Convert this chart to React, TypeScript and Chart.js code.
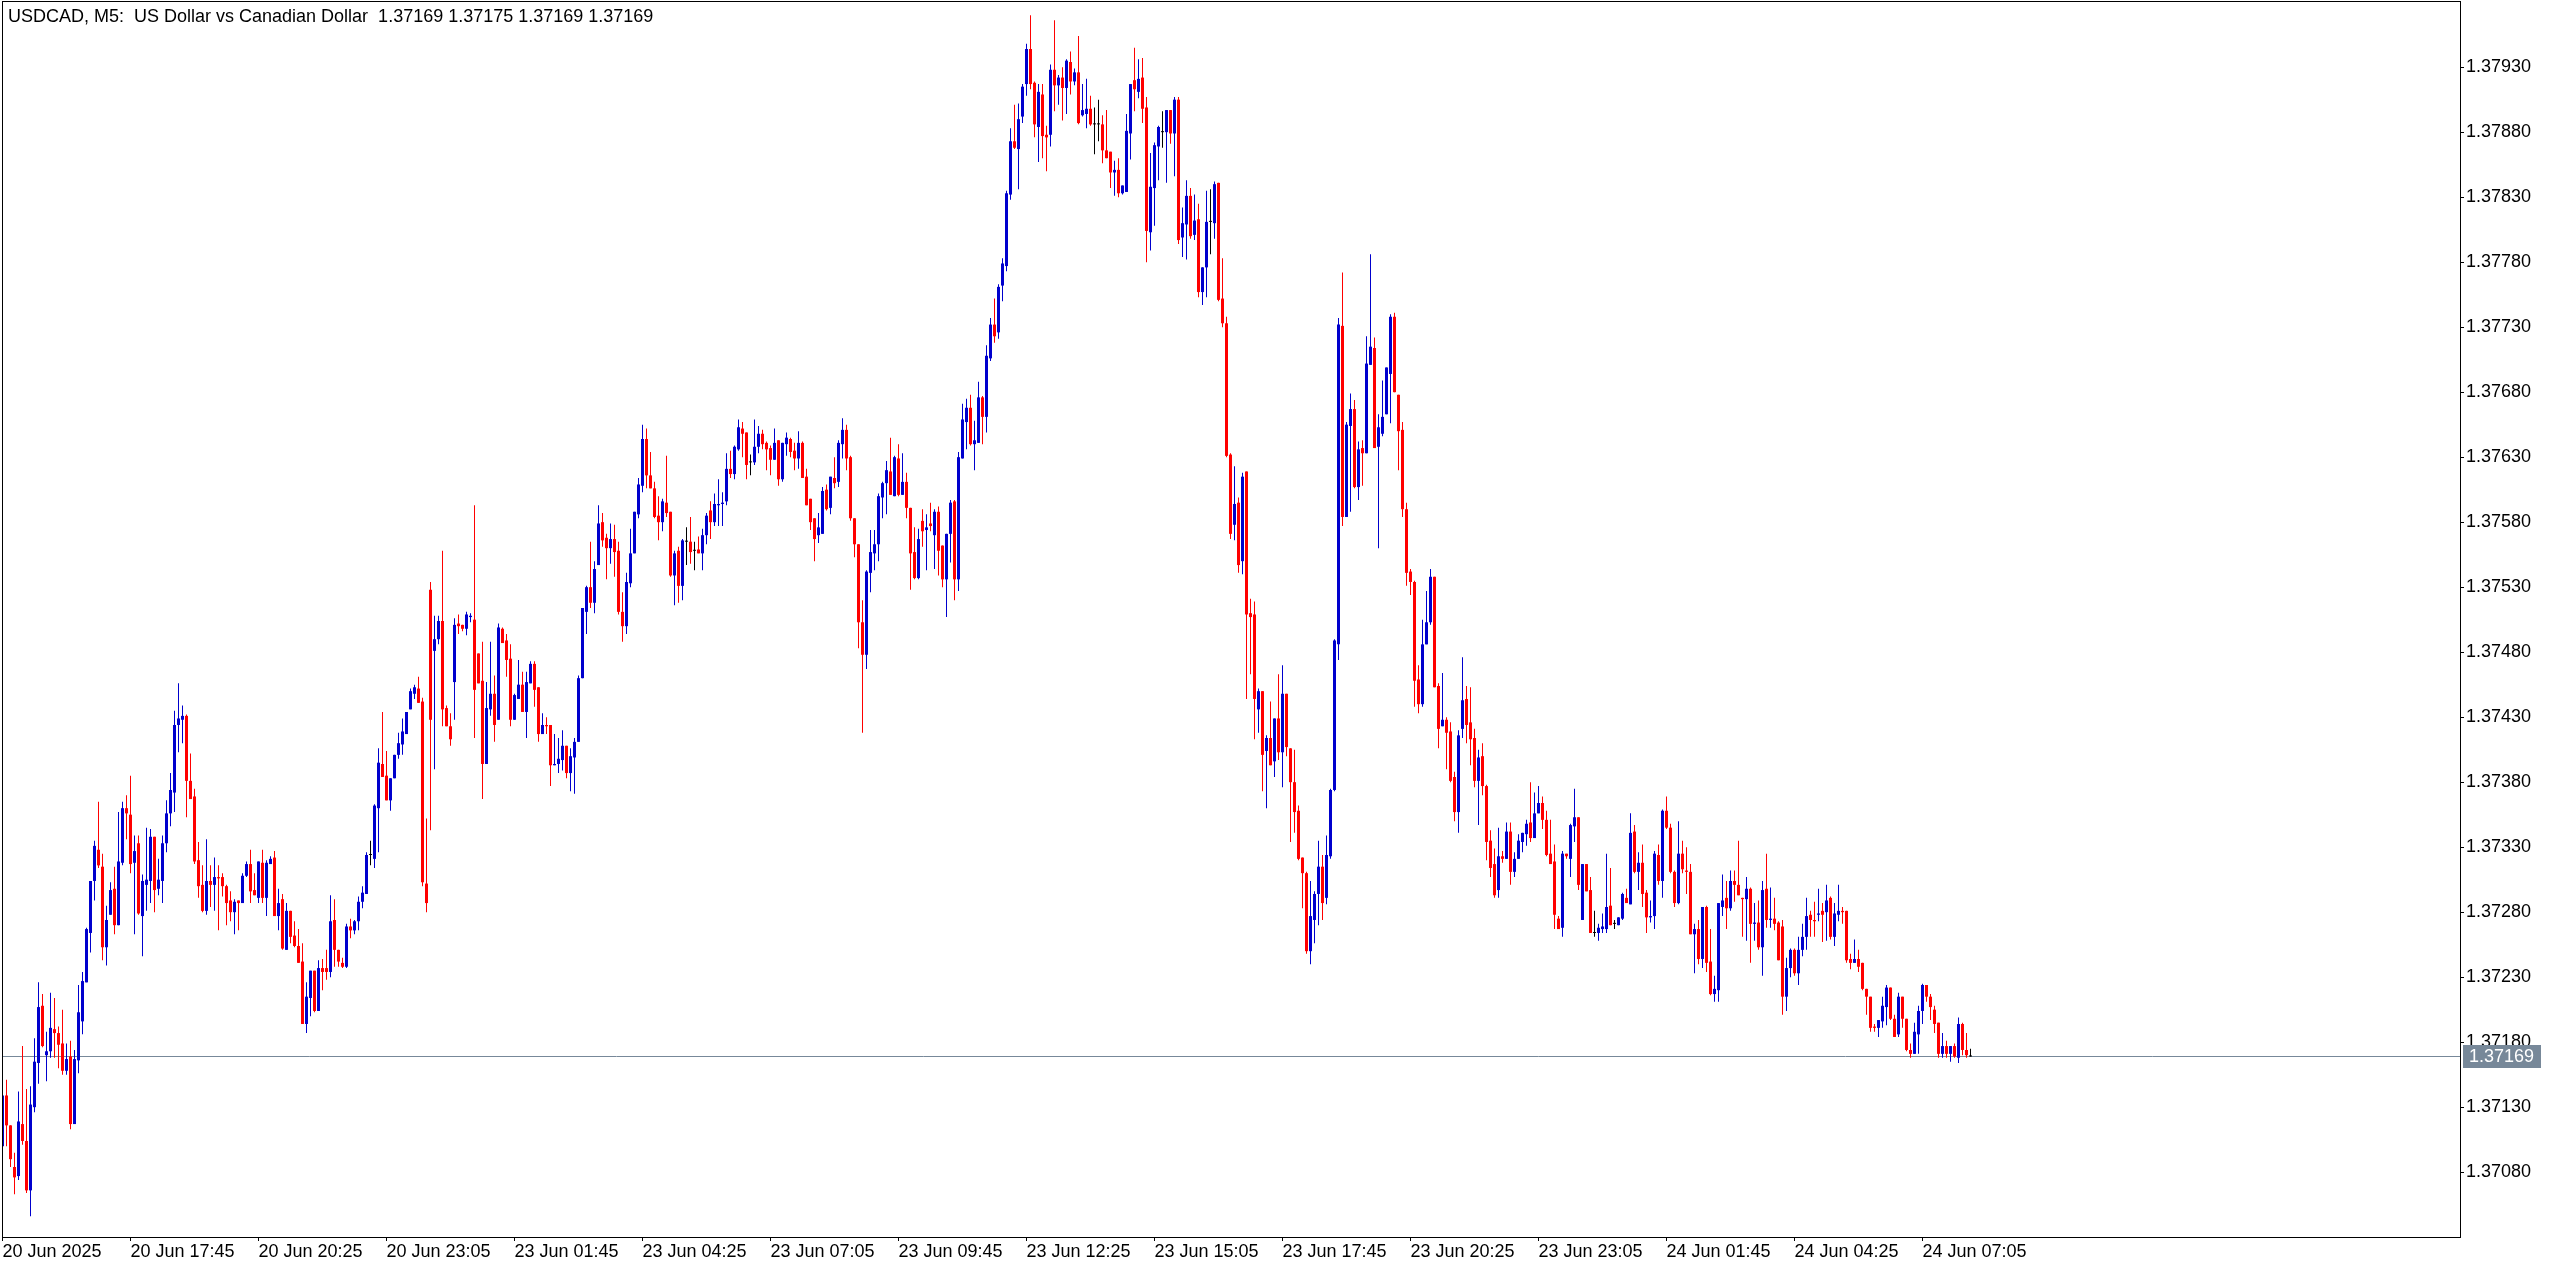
import React, { useEffect, useRef } from "react";
import { Chart, registerables } from "chart.js";

Chart.register(...registerables);

const SYMBOL_TITLE = "USDCAD, M5:  US Dollar vs Canadian Dollar";

const timeLabels = [
  "20 Jun 2025", "20 Jun 17:45", "20 Jun 20:25", "20 Jun 23:05", "23 Jun 01:45", "23 Jun 04:25",
  "23 Jun 07:05", "23 Jun 09:45", "23 Jun 12:25", "23 Jun 15:05", "23 Jun 17:45", "23 Jun 20:25",
  "23 Jun 23:05", "24 Jun 01:45", "24 Jun 04:25", "24 Jun 07:05",
];
const timeLabelBar = [0, 32, 64, 96, 128, 160, 192, 224, 256, 288, 320, 352, 384, 416, 448, 480];

const priceTicks = [
  1.3708, 1.3713, 1.3718, 1.3723, 1.3728, 1.3733, 1.3738, 1.3743, 1.3748,
  1.3753, 1.3758, 1.3763, 1.3768, 1.3773, 1.3778, 1.3783, 1.3788, 1.3793,
];

const openP = [
1.37100,1.37139,1.37116,1.37084,1.37077,1.37117,1.37104,1.37066,1.37130,1.37164,
1.37208,1.37170,1.37173,1.37190,1.37187,1.37179,1.37158,1.37169,1.37117,1.37166,
1.37196,1.37226,1.37264,1.37304,1.37328,1.37315,1.37253,1.37278,1.37298,1.37270,
1.37318,1.37360,1.37355,1.37318,1.37333,1.37277,1.37301,1.37304,1.37338,1.37298,
1.37304,1.37333,1.37356,1.37372,1.37424,1.37428,1.37431,1.37381,1.37369,1.37320,
1.37301,1.37281,1.37304,1.37301,1.37307,1.37307,1.37300,1.37289,1.37280,1.37289,
1.37287,1.37308,1.37317,1.37297,1.37291,1.37318,1.37291,1.37317,1.37322,1.37277,
1.37290,1.37251,1.37281,1.37262,1.37254,1.37242,1.37194,1.37214,1.37235,1.37204,
1.37237,1.37237,1.37234,1.37274,1.37251,1.37241,1.37238,1.37269,1.37266,1.37273,
1.37288,1.37294,1.37324,1.37321,1.37360,1.37394,1.37385,1.37366,1.37383,1.37401,
1.37409,1.37417,1.37436,1.37448,1.37452,1.37442,1.37302,1.37528,1.37481,1.37490,
1.37504,1.37437,1.37423,1.37457,1.37502,1.37501,1.37498,1.37507,1.37505,1.37479,
1.37458,1.37394,1.37436,1.37448,1.37428,1.37498,1.37489,1.37475,1.37428,1.37444,
1.37455,1.37434,1.37456,1.37471,1.37453,1.37417,1.37424,1.37424,1.37393,1.37394,
1.37397,1.37408,1.37387,1.37399,1.37411,1.37460,1.37511,1.37530,1.37518,1.37547,
1.37580,1.37568,1.37560,1.37567,1.37558,1.37511,1.37500,1.37533,1.37556,1.37586,
1.37608,1.37644,1.37616,1.37606,1.37585,1.37580,1.37595,1.37588,1.37539,1.37558,
1.37531,1.37565,1.37565,1.37558,1.37559,1.37556,1.37570,1.37589,1.37580,1.37593,
1.37594,1.37596,1.37621,1.37617,1.37636,1.37652,1.37649,1.37626,1.37626,1.37638,
1.37648,1.37641,1.37637,1.37628,1.37643,1.37613,1.37640,1.37644,1.37635,1.37629,
1.37641,1.37615,1.37598,1.37583,1.37570,1.37571,1.37605,1.37591,1.37614,1.37611,
1.37640,1.37651,1.37630,1.37583,1.37563,1.37503,1.37478,1.37541,1.37556,1.37563,
1.37599,1.37610,1.37619,1.37600,1.37629,1.37601,1.37611,1.37591,1.37557,1.37537,
1.37581,1.37574,1.37579,1.37570,1.37588,1.37562,1.37536,1.37571,1.37596,1.37536,
1.37629,1.37657,1.37668,1.37640,1.37641,1.37676,1.37661,1.37706,1.37732,1.37726,
1.37762,1.37777,1.37832,1.37873,1.37867,1.37892,1.37917,1.37944,1.37918,1.37884,
1.37909,1.37878,1.37878,1.37928,1.37916,1.37922,1.37914,1.37934,1.37919,1.37926,
1.37893,1.37894,1.37898,1.37886,1.37886,1.37886,1.37866,1.37865,1.37849,1.37851,
1.37833,1.37834,1.37879,1.37920,1.37911,1.37922,1.37899,1.37803,1.37837,1.37869,
1.37880,1.37880,1.37897,1.37879,1.37905,1.37799,1.37809,1.37831,1.37801,1.37813,
1.37757,1.37776,1.37811,1.37810,1.37841,1.37752,1.37733,1.37632,1.37578,1.37595,
1.37550,1.37619,1.37510,1.37509,1.37436,1.37450,1.37404,1.37414,1.37396,1.37429,
1.37403,1.37448,1.37406,1.37380,1.37358,1.37322,1.37310,1.37250,1.37274,1.37294,
1.37315,1.37291,1.37323,1.37374,1.37486,1.37731,1.37584,1.37654,1.37667,1.37607,
1.37637,1.37633,1.37701,1.37714,1.37638,1.37648,1.37663,1.37694,1.37738,1.37678,
1.37651,1.37590,1.37542,1.37534,1.37459,1.37440,1.37486,1.37503,1.37538,1.37454,
1.37423,1.37428,1.37419,1.37384,1.37357,1.37421,1.37444,1.37426,1.37414,1.37381,
1.37400,1.37377,1.37335,1.37317,1.37297,1.37323,1.37321,1.37342,1.37311,1.37321,
1.37334,1.37340,1.37349,1.37337,1.37356,1.37364,1.37351,1.37325,1.37319,1.37275,
1.37268,1.37325,1.37321,1.37346,1.37353,1.37274,1.37317,1.37297,1.37264,1.37264,
1.37267,1.37267,1.37285,1.37271,1.37270,1.37275,1.37291,1.37286,1.37342,1.37311,
1.37318,1.37295,1.37276,1.37277,1.37324,1.37304,1.37358,1.37345,1.37311,1.37287,
1.37325,1.37312,1.37311,1.37263,1.37267,1.37244,1.37284,1.37242,1.37217,1.37220,
1.37284,1.37291,1.37283,1.37304,1.37301,1.37291,1.37290,1.37298,1.37271,1.37272,
1.37253,1.37298,1.37274,1.37275,1.37272,1.37269,1.37215,1.37237,1.37251,1.37233,
1.37251,1.37261,1.37278,1.37274,1.37278,1.37281,1.37280,1.37291,1.37261,1.37278,
1.37281,1.37281,1.37244,1.37241,1.37244,1.37241,1.37221,1.37215,1.37192,1.37191,
1.37196,1.37207,1.37222,1.37198,1.37186,1.37215,1.37198,1.37174,1.37171,1.37186,
1.37204,1.37224,1.37215,1.37205,1.37195,1.37171,1.37177,1.37171,1.37177,1.37168,
1.37194,1.37174,1.37169,
];

const highP = [
1.37139,1.37151,1.37116,1.37095,1.37142,1.37177,1.37144,1.37146,1.37183,1.37226,
1.37217,1.37188,1.37218,1.37214,1.37192,1.37205,1.37179,1.37181,1.37174,1.37224,
1.37234,1.37268,1.37304,1.37335,1.37365,1.37325,1.37285,1.37303,1.37315,1.37357,
1.37365,1.37370,1.37385,1.37339,1.37339,1.37309,1.37345,1.37344,1.37338,1.37321,
1.37339,1.37366,1.37387,1.37435,1.37456,1.37439,1.37432,1.37402,1.37375,1.37334,
1.37316,1.37336,1.37316,1.37322,1.37316,1.37310,1.37301,1.37296,1.37290,1.37289,
1.37310,1.37319,1.37328,1.37310,1.37319,1.37328,1.37320,1.37323,1.37327,1.37298,
1.37294,1.37287,1.37281,1.37273,1.37267,1.37256,1.37226,1.37235,1.37235,1.37243,
1.37244,1.37251,1.37293,1.37290,1.37251,1.37245,1.37271,1.37275,1.37274,1.37292,
1.37300,1.37326,1.37335,1.37363,1.37406,1.37434,1.37404,1.37383,1.37401,1.37418,
1.37429,1.37434,1.37452,1.37455,1.37461,1.37445,1.37352,1.37534,1.37508,1.37508,
1.37558,1.37439,1.37433,1.37506,1.37509,1.37501,1.37511,1.37510,1.37593,1.37479,
1.37488,1.37457,1.37488,1.37462,1.37502,1.37499,1.37494,1.37486,1.37448,1.37474,
1.37465,1.37465,1.37473,1.37473,1.37453,1.37433,1.37430,1.37424,1.37417,1.37414,
1.37420,1.37408,1.37406,1.37414,1.37462,1.37514,1.37531,1.37565,1.37550,1.37593,
1.37587,1.37571,1.37579,1.37578,1.37565,1.37526,1.37541,1.37575,1.37588,1.37614,
1.37655,1.37652,1.37634,1.37611,1.37600,1.37598,1.37631,1.37588,1.37558,1.37561,
1.37567,1.37576,1.37584,1.37565,1.37569,1.37575,1.37587,1.37596,1.37602,1.37613,
1.37603,1.37633,1.37635,1.37639,1.37659,1.37657,1.37649,1.37632,1.37659,1.37654,
1.37651,1.37642,1.37639,1.37652,1.37643,1.37641,1.37649,1.37645,1.37641,1.37650,
1.37642,1.37621,1.37598,1.37583,1.37587,1.37607,1.37609,1.37615,1.37630,1.37643,
1.37660,1.37655,1.37631,1.37583,1.37563,1.37520,1.37543,1.37574,1.37574,1.37602,
1.37611,1.37627,1.37645,1.37631,1.37640,1.37633,1.37618,1.37591,1.37576,1.37575,
1.37590,1.37586,1.37595,1.37590,1.37592,1.37562,1.37571,1.37597,1.37597,1.37634,
1.37671,1.37675,1.37678,1.37658,1.37688,1.37677,1.37716,1.37737,1.37752,1.37763,
1.37783,1.37835,1.37883,1.37901,1.37902,1.37917,1.37948,1.37970,1.37919,1.37917,
1.37917,1.37885,1.37932,1.37966,1.37924,1.37930,1.37936,1.37942,1.37929,1.37954,
1.37917,1.37921,1.37908,1.37899,1.37905,1.37893,1.37897,1.37865,1.37858,1.37860,
1.37839,1.37894,1.37917,1.37945,1.37936,1.37937,1.37907,1.37864,1.37872,1.37885,
1.37896,1.37897,1.37897,1.37907,1.37907,1.37822,1.37843,1.37837,1.37832,1.37825,
1.37776,1.37835,1.37836,1.37842,1.37841,1.37783,1.37738,1.37633,1.37623,1.37599,
1.37618,1.37619,1.37521,1.37519,1.37452,1.37450,1.37416,1.37442,1.37429,1.37463,
1.37470,1.37448,1.37406,1.37405,1.37362,1.37322,1.37311,1.37304,1.37296,1.37335,
1.37324,1.37339,1.37375,1.37490,1.37737,1.37772,1.37657,1.37679,1.37674,1.37642,
1.37643,1.37723,1.37786,1.37722,1.37663,1.37689,1.37699,1.37740,1.37741,1.37678,
1.37657,1.37595,1.37544,1.37535,1.37470,1.37505,1.37527,1.37544,1.37538,1.37456,
1.37464,1.37430,1.37426,1.37388,1.37420,1.37476,1.37454,1.37453,1.37421,1.37405,
1.37410,1.37378,1.37343,1.37329,1.37345,1.37327,1.37349,1.37349,1.37326,1.37340,
1.37341,1.37351,1.37380,1.37372,1.37377,1.37369,1.37358,1.37351,1.37332,1.37277,
1.37327,1.37325,1.37348,1.37375,1.37353,1.37317,1.37317,1.37307,1.37281,1.37271,
1.37279,1.37325,1.37314,1.37274,1.37276,1.37295,1.37298,1.37356,1.37347,1.37326,
1.37332,1.37297,1.37289,1.37327,1.37332,1.37359,1.37369,1.37348,1.37312,1.37350,
1.37335,1.37330,1.37317,1.37271,1.37274,1.37284,1.37285,1.37267,1.37231,1.37287,
1.37309,1.37304,1.37312,1.37312,1.37335,1.37291,1.37307,1.37299,1.37287,1.37289,
1.37304,1.37325,1.37299,1.37291,1.37273,1.37274,1.37245,1.37252,1.37252,1.37261,
1.37271,1.37291,1.37281,1.37288,1.37298,1.37287,1.37301,1.37292,1.37287,1.37301,
1.37284,1.37281,1.37248,1.37259,1.37251,1.37241,1.37221,1.37215,1.37194,1.37197,
1.37215,1.37224,1.37222,1.37201,1.37218,1.37215,1.37198,1.37179,1.37195,1.37208,
1.37225,1.37224,1.37217,1.37208,1.37195,1.37187,1.37181,1.37177,1.37179,1.37199,
1.37195,1.37187,1.37175,
];

const lowP = [
1.37100,1.37100,1.37084,1.37063,1.37074,1.37101,1.37064,1.37046,1.37126,1.37148,
1.37176,1.37150,1.37168,1.37168,1.37160,1.37155,1.37155,1.37113,1.37117,1.37156,
1.37186,1.37226,1.37249,1.37289,1.37314,1.37243,1.37239,1.37278,1.37263,1.37270,
1.37316,1.37336,1.37310,1.37263,1.37278,1.37246,1.37281,1.37287,1.37280,1.37293,
1.37287,1.37326,1.37346,1.37357,1.37403,1.37410,1.37353,1.37367,1.37317,1.37291,
1.37280,1.37278,1.37284,1.37281,1.37266,1.37292,1.37270,1.37273,1.37263,1.37266,
1.37287,1.37307,1.37287,1.37293,1.37287,1.37287,1.37277,1.37317,1.37277,1.37266,
1.37251,1.37251,1.37256,1.37253,1.37241,1.37194,1.37187,1.37200,1.37203,1.37204,
1.37220,1.37228,1.37230,1.37238,1.37238,1.37237,1.37237,1.37260,1.37263,1.37266,
1.37283,1.37294,1.37316,1.37314,1.37326,1.37384,1.37366,1.37358,1.37383,1.37398,
1.37401,1.37417,1.37436,1.37444,1.37441,1.37300,1.37280,1.37343,1.37390,1.37486,
1.37423,1.37423,1.37408,1.37428,1.37494,1.37496,1.37493,1.37503,1.37414,1.37456,
1.37367,1.37394,1.37431,1.37411,1.37428,1.37487,1.37461,1.37423,1.37428,1.37444,
1.37434,1.37414,1.37456,1.37438,1.37411,1.37417,1.37417,1.37377,1.37393,1.37387,
1.37389,1.37383,1.37373,1.37371,1.37411,1.37460,1.37494,1.37514,1.37510,1.37547,
1.37561,1.37536,1.37548,1.37538,1.37509,1.37488,1.37494,1.37530,1.37556,1.37583,
1.37603,1.37606,1.37606,1.37583,1.37566,1.37573,1.37584,1.37538,1.37516,1.37518,
1.37520,1.37547,1.37548,1.37543,1.37556,1.37543,1.37563,1.37567,1.37577,1.37577,
1.37577,1.37593,1.37614,1.37613,1.37635,1.37630,1.37613,1.37616,1.37624,1.37633,
1.37636,1.37620,1.37616,1.37628,1.37608,1.37611,1.37631,1.37630,1.37620,1.37621,
1.37614,1.37593,1.37574,1.37550,1.37564,1.37571,1.37589,1.37586,1.37606,1.37607,
1.37629,1.37620,1.37581,1.37553,1.37483,1.37418,1.37467,1.37526,1.37543,1.37550,
1.37583,1.37586,1.37601,1.37600,1.37600,1.37601,1.37583,1.37528,1.37536,1.37536,
1.37561,1.37543,1.37573,1.37544,1.37539,1.37530,1.37507,1.37549,1.37520,1.37527,
1.37629,1.37636,1.37639,1.37620,1.37641,1.37640,1.37649,1.37704,1.37718,1.37721,
1.37750,1.37773,1.37828,1.37867,1.37836,1.37887,1.37908,1.37913,1.37876,1.37857,
1.37860,1.37850,1.37869,1.37896,1.37901,1.37889,1.37894,1.37909,1.37916,1.37886,
1.37892,1.37883,1.37885,1.37863,1.37873,1.37856,1.37860,1.37837,1.37831,1.37830,
1.37832,1.37834,1.37859,1.37896,1.37906,1.37887,1.37780,1.37789,1.37808,1.37843,
1.37868,1.37841,1.37871,1.37846,1.37794,1.37784,1.37782,1.37798,1.37797,1.37753,
1.37747,1.37753,1.37786,1.37798,1.37750,1.37730,1.37630,1.37567,1.37566,1.37541,
1.37540,1.37444,1.37463,1.37413,1.37418,1.37373,1.37360,1.37393,1.37384,1.37397,
1.37376,1.37400,1.37334,1.37341,1.37320,1.37283,1.37248,1.37240,1.37256,1.37270,
1.37274,1.37286,1.37321,1.37373,1.37474,1.37577,1.37584,1.37588,1.37606,1.37597,
1.37608,1.37633,1.37701,1.37637,1.37560,1.37646,1.37663,1.37656,1.37680,1.37620,
1.37584,1.37531,1.37524,1.37438,1.37433,1.37438,1.37486,1.37501,1.37453,1.37406,
1.37423,1.37390,1.37380,1.37350,1.37341,1.37414,1.37410,1.37393,1.37376,1.37347,
1.37370,1.37320,1.37307,1.37291,1.37291,1.37318,1.37321,1.37301,1.37307,1.37321,
1.37326,1.37331,1.37334,1.37337,1.37356,1.37344,1.37323,1.37317,1.37267,1.37267,
1.37261,1.37321,1.37307,1.37334,1.37297,1.37274,1.37296,1.37264,1.37261,1.37258,
1.37264,1.37264,1.37270,1.37267,1.37270,1.37274,1.37287,1.37286,1.37310,1.37297,
1.37284,1.37264,1.37272,1.37267,1.37301,1.37291,1.37344,1.37310,1.37284,1.37286,
1.37310,1.37294,1.37263,1.37233,1.37240,1.37237,1.37234,1.37216,1.37211,1.37211,
1.37277,1.37267,1.37281,1.37288,1.37293,1.37261,1.37258,1.37241,1.37258,1.37251,
1.37231,1.37268,1.37268,1.37266,1.37243,1.37201,1.37204,1.37230,1.37231,1.37224,
1.37246,1.37251,1.37261,1.37261,1.37273,1.37257,1.37258,1.37259,1.37254,1.37273,
1.37271,1.37241,1.37236,1.37241,1.37234,1.37220,1.37201,1.37188,1.37188,1.37184,
1.37191,1.37193,1.37197,1.37184,1.37184,1.37191,1.37173,1.37168,1.37171,1.37171,
1.37194,1.37211,1.37197,1.37187,1.37168,1.37168,1.37168,1.37165,1.37168,1.37164,
1.37170,1.37168,1.37169,
];

const closeP = [
1.37139,1.37116,1.37090,1.37076,1.37119,1.37104,1.37066,1.37132,1.37165,1.37207,
1.37177,1.37173,1.37191,1.37187,1.37178,1.37158,1.37167,1.37117,1.37167,1.37203,
1.37227,1.37267,1.37304,1.37331,1.37316,1.37253,1.37274,1.37297,1.37270,1.37319,
1.37360,1.37356,1.37317,1.37327,1.37279,1.37304,1.37305,1.37338,1.37297,1.37305,
1.37333,1.37356,1.37374,1.37424,1.37429,1.37431,1.37381,1.37367,1.37319,1.37300,
1.37281,1.37304,1.37301,1.37307,1.37306,1.37300,1.37287,1.37280,1.37288,1.37287,
1.37308,1.37317,1.37296,1.37293,1.37319,1.37291,1.37318,1.37321,1.37277,1.37287,
1.37252,1.37281,1.37261,1.37254,1.37241,1.37194,1.37215,1.37235,1.37204,1.37237,
1.37234,1.37234,1.37273,1.37251,1.37242,1.37238,1.37269,1.37266,1.37273,1.37288,
1.37295,1.37324,1.37324,1.37362,1.37395,1.37384,1.37366,1.37383,1.37401,1.37410,
1.37419,1.37434,1.37450,1.37453,1.37441,1.37303,1.37287,1.37428,1.37490,1.37504,
1.37436,1.37423,1.37413,1.37501,1.37500,1.37498,1.37509,1.37508,1.37451,1.37456,
1.37394,1.37437,1.37448,1.37424,1.37499,1.37487,1.37474,1.37428,1.37447,1.37455,
1.37434,1.37457,1.37471,1.37451,1.37417,1.37424,1.37423,1.37393,1.37394,1.37398,
1.37408,1.37387,1.37400,1.37411,1.37460,1.37514,1.37530,1.37518,1.37544,1.37579,
1.37566,1.37560,1.37567,1.37557,1.37511,1.37500,1.37534,1.37556,1.37588,1.37609,
1.37644,1.37616,1.37606,1.37584,1.37580,1.37596,1.37587,1.37539,1.37556,1.37531,
1.37566,1.37565,1.37557,1.37558,1.37556,1.37570,1.37585,1.37580,1.37594,1.37594,
1.37595,1.37621,1.37617,1.37638,1.37653,1.37648,1.37624,1.37626,1.37638,1.37648,
1.37640,1.37636,1.37628,1.37641,1.37613,1.37641,1.37645,1.37634,1.37629,1.37641,
1.37614,1.37593,1.37580,1.37567,1.37576,1.37604,1.37590,1.37615,1.37610,1.37641,
1.37651,1.37629,1.37583,1.37563,1.37503,1.37478,1.37542,1.37557,1.37563,1.37600,
1.37610,1.37620,1.37601,1.37630,1.37601,1.37611,1.37591,1.37556,1.37537,1.37567,
1.37573,1.37576,1.37577,1.37588,1.37558,1.37536,1.37571,1.37595,1.37536,1.37630,
1.37659,1.37668,1.37640,1.37643,1.37676,1.37661,1.37708,1.37732,1.37723,1.37761,
1.37779,1.37833,1.37873,1.37868,1.37890,1.37915,1.37944,1.37917,1.37886,1.37911,
1.37877,1.37876,1.37928,1.37916,1.37922,1.37914,1.37935,1.37919,1.37926,1.37887,
1.37897,1.37898,1.37886,1.37886,1.37886,1.37866,1.37860,1.37849,1.37851,1.37833,
1.37839,1.37881,1.37917,1.37913,1.37921,1.37898,1.37804,1.37838,1.37870,1.37884,
1.37880,1.37897,1.37879,1.37905,1.37797,1.37810,1.37831,1.37800,1.37812,1.37757,
1.37776,1.37811,1.37811,1.37840,1.37751,1.37733,1.37631,1.37571,1.37594,1.37547,
1.37615,1.37509,1.37507,1.37444,1.37450,1.37401,1.37414,1.37393,1.37429,1.37403,
1.37448,1.37407,1.37380,1.37357,1.37321,1.37310,1.37250,1.37277,1.37294,1.37315,
1.37287,1.37324,1.37374,1.37489,1.37732,1.37584,1.37655,1.37667,1.37607,1.37636,
1.37633,1.37702,1.37715,1.37637,1.37653,1.37661,1.37699,1.37738,1.37680,1.37650,
1.37590,1.37541,1.37534,1.37458,1.37440,1.37486,1.37503,1.37538,1.37453,1.37421,
1.37428,1.37418,1.37381,1.37357,1.37416,1.37443,1.37424,1.37413,1.37381,1.37399,
1.37377,1.37334,1.37314,1.37293,1.37323,1.37321,1.37342,1.37311,1.37321,1.37335,
1.37341,1.37348,1.37337,1.37356,1.37364,1.37351,1.37324,1.37317,1.37278,1.37267,
1.37325,1.37323,1.37347,1.37353,1.37301,1.37317,1.37296,1.37264,1.37264,1.37268,
1.37269,1.37284,1.37270,1.37271,1.37276,1.37294,1.37287,1.37341,1.37311,1.37318,
1.37294,1.37276,1.37277,1.37325,1.37304,1.37358,1.37345,1.37311,1.37287,1.37325,
1.37313,1.37311,1.37263,1.37267,1.37244,1.37284,1.37241,1.37217,1.37221,1.37287,
1.37289,1.37283,1.37304,1.37301,1.37293,1.37290,1.37298,1.37271,1.37272,1.37253,
1.37297,1.37274,1.37275,1.37271,1.37243,1.37215,1.37237,1.37251,1.37233,1.37251,
1.37261,1.37277,1.37274,1.37273,1.37279,1.37278,1.37289,1.37261,1.37279,1.37281,
1.37280,1.37243,1.37241,1.37244,1.37238,1.37221,1.37215,1.37191,1.37191,1.37197,
1.37208,1.37222,1.37198,1.37184,1.37215,1.37198,1.37174,1.37171,1.37188,1.37204,
1.37224,1.37215,1.37207,1.37194,1.37171,1.37177,1.37171,1.37177,1.37169,1.37194,
1.37174,1.37170,1.37169,
];

const BULL = "#0000cd";
const BEAR = "#ff0000";
const DOJI = "#000000";
const BID_COLOR = "#778899";
const FONT_FAMILY = '"Liberation Sans", Arial, sans-serif';
const FONT_CSS = `18px ${FONT_FAMILY}`;

const Y_MIN = 1.3703013;
const Y_MAX = 1.379809;
const X_MIN = -0.125;
const X_MAX = 614.375;

export default function App() {
  const canvasRef = useRef<HTMLCanvasElement | null>(null);

  useEffect(() => {
    document.body.style.margin = "0";
    const canvas = canvasRef.current;
    if (!canvas) return;

    const n = openP.length;
    const idx = openP.map((_, i) => i);
    const colors = idx.map((i) =>
      closeP[i] > openP[i] ? BULL : closeP[i] < openP[i] ? BEAR : DOJI
    );
    const last = n - 1;

    const bidLine = {
      id: "bidLine",
      beforeDatasetsDraw(chart: any) {
        const { ctx, chartArea: a, scales } = chart;
        const py = Math.round(scales.y.getPixelForValue(closeP[last])) + 0.5;
        ctx.save();
        ctx.strokeStyle = BID_COLOR;
        ctx.lineWidth = 1;
        ctx.beginPath();
        ctx.moveTo(a.left, py);
        ctx.lineTo(a.right, py);
        ctx.stroke();
        ctx.restore();
      },
    };

    const overlay = {
      id: "overlay",
      afterDraw(chart: any) {
        const { ctx, chartArea: a, scales } = chart;
        ctx.save();
        // frame
        ctx.strokeStyle = "#000";
        ctx.lineWidth = 1;
        ctx.strokeRect(
          Math.round(a.left) + 0.5,
          Math.round(a.top) + 0.5,
          Math.round(a.right - a.left),
          Math.round(a.bottom - a.top)
        );
        // bid price label
        const py = Math.round(scales.y.getPixelForValue(closeP[last])) + 0.5;
        ctx.fillStyle = BID_COLOR;
        ctx.fillRect(a.right + 3, py - 11.5, 78, 23);
        ctx.fillStyle = "#ffffff";
        ctx.font = FONT_CSS;
        ctx.textAlign = "left";
        ctx.textBaseline = "middle";
        ctx.fillText(closeP[last].toFixed(5), a.right + 9, py + 1);
        // title
        ctx.fillStyle = "#000";
        ctx.textBaseline = "alphabetic";
        const ohlc = [openP[last], highP[last], lowP[last], closeP[last]]
          .map((v) => v.toFixed(5))
          .join(" ");
        ctx.fillText(`${SYMBOL_TITLE}  ${ohlc}`, 8, 22);
        ctx.restore();
      },
    };

    const tickFont = { family: FONT_FAMILY, size: 18 };

    const chart = new Chart(canvas, {
      type: "bar",
      data: {
        datasets: [
          {
            label: "wick",
            data: idx.map((i) => ({ x: i, y: [lowP[i], highP[i]] })) as any,
            backgroundColor: colors,
            borderWidth: 0,
            barThickness: 1,
            grouped: false,
            minBarLength: 1,
            inflateAmount: 0,
            order: 2,
          } as any,
          {
            label: "body",
            data: idx.map((i) => ({ x: i, y: [openP[i], closeP[i]] })) as any,
            backgroundColor: colors,
            borderWidth: 0,
            barThickness: 3,
            grouped: false,
            minBarLength: 1,
            inflateAmount: 0,
            order: 1,
          } as any,
        ],
      },
      options: {
        animation: false,
        responsive: false,
        maintainAspectRatio: false,
        devicePixelRatio: 1,
        events: [],
        layout: { padding: { left: 2, top: 1, right: 0, bottom: 0 } },
        plugins: {
          legend: { display: false },
          tooltip: { enabled: false },
          title: { display: false },
        },
        scales: {
          x: {
            type: "linear",
            min: X_MIN,
            max: X_MAX,
            offset: false,
            border: { display: false },
            grid: {
              display: true,
              drawOnChartArea: false,
              drawTicks: true,
              tickLength: 4,
              color: "#000",
              offset: false,
            },
            ticks: {
              autoSkip: false,
              maxRotation: 0,
              minRotation: 0,
              align: "start",
              padding: 0,
              color: "#000",
              font: tickFont,
              callback: (v: any) => {
                const k = timeLabelBar.indexOf(Number(v));
                return k >= 0 ? timeLabels[k] : "";
              },
            },
            afterBuildTicks: (s: any) => {
              s.ticks = timeLabelBar.map((v) => ({ value: v }));
            },
            afterFit: (s: any) => {
              s.height = 33;
              s.paddingLeft = 0;
              s.paddingRight = 0;
            },
          } as any,
          y: {
            type: "linear",
            position: "right",
            min: Y_MIN,
            max: Y_MAX,
            beginAtZero: false,
            border: { display: false },
            grid: {
              display: true,
              drawOnChartArea: false,
              drawTicks: true,
              tickLength: 4,
              color: "#000",
            },
            ticks: {
              padding: 2,
              color: "#000",
              font: tickFont,
              autoSkip: false,
              callback: (v: any) => Number(v).toFixed(5),
            },
            afterBuildTicks: (s: any) => {
              s.ticks = priceTicks.map((v) => ({ value: v }));
            },
            afterFit: (s: any) => {
              s.width = 96;
              s.paddingTop = 0;
              s.paddingBottom = 0;
            },
          } as any,
        },
      },
      plugins: [bidLine, overlay],
    });

    return () => {
      chart.destroy();
    };
  }, []);

  return (
    <canvas
      ref={canvasRef}
      width={2556}
      height={1270}
      style={{ display: "block", width: "2556px", height: "1270px" }}
    />
  );
}
